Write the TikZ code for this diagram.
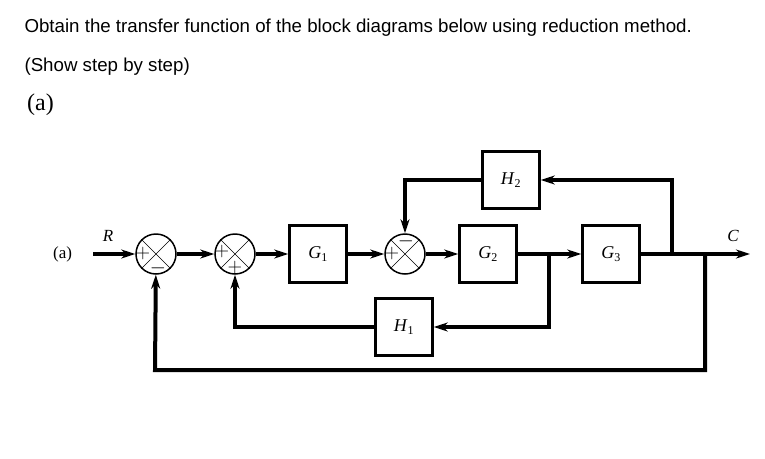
\documentclass[tikz,border=0pt]{standalone}
\usepackage{fontspec}
\setmainfont{Liberation Serif}
\newfontfamily\sansf{Liberation Sans}
\usetikzlibrary{arrows.meta}
\newcommand{\vb}[2]{\textit{#1}\textsubscript{\fontsize{12}{12}\selectfont #2}}
\begin{document}
\begin{tikzpicture}[x=1pt,y=-1pt,
  blk/.style={draw,line width=2.5pt,minimum width=57pt,minimum height=57pt,inner sep=0pt,font=\fontsize{18}{18}\selectfont},
  sumj/.style={draw,circle,line width=1.5pt,minimum size=40pt,inner sep=0pt},
  sig/.style={line width=4pt},
  arr/.style={sig,-{Stealth[length=14pt,width=9pt]}},
  sgn/.style={font=\sffamily\fontsize{20}{20}\selectfont,inner sep=0pt},
  lbl/.style={font=\itshape\fontsize{17}{17}\selectfont}]
\useasboundingbox (0,0) rectangle (765,458);
\node[anchor=west,font=\sansf\fontsize{18.7}{18.7}\selectfont] (t1) at (21,28) {Obtain the transfer function of the block diagrams below using reduction method.};
\node[anchor=west,font=\sansf\fontsize{18.7}{18.7}\selectfont] (t2) at (21,67) {(Show step by step)};
\node[anchor=west,font=\fontsize{24}{24}\selectfont,inner sep=0pt] (ta) at (27,105) {(a)};
\node[anchor=west,font=\fontsize{17}{17}\selectfont,inner sep=0pt] (la) at (53,254) {(a)};
\node[sumj] (s1) at (156,254) {};
\node[sumj] (s2) at (235,254) {};
\node[sumj] (s3) at (405,254) {};
\foreach \s in {s1,s2,s3}{
  \draw[line width=0.4pt] (\s.45) -- (\s.225) (\s.135) -- (\s.315);}
\node[sgn] (p1) at (143,254) {+};
\node[sgn] (m1) at (158,268) {$-$};
\node[sgn] (p2) at (222,252) {+};
\node[sgn] (p2b) at (235,268) {+};
\node[sgn] (p3) at (392,254) {+};
\node[sgn] (m3) at (406,241) {$-$};
\node[blk] (g1) at (318,254) {\vb{G}{1}};
\node[blk] (g2) at (488,254) {\vb{G}{2}};
\node[blk] (g3) at (611,254) {\vb{G}{3}};
\node[blk] (h2) at (511,180) {\vb{H}{2}};
\node[blk] (h1) at (404,327) {\vb{H}{1}};
\coordinate (in) at (93,254);
\coordinate (out) at (750,254);
\coordinate (b1) at (549,254);
\coordinate (b2) at (672,254);
\coordinate (b3) at (705,254);
\node[lbl] (R) at (108,236) {R};
\node[lbl] (C) at (733,236) {C};
\draw[arr] (in) -- (s1);
\draw[arr] (s1) -- (s2);
\draw[arr] (s2) -- (g1);
\draw[arr] (g1) -- (s3);
\draw[arr] (s3) -- (g2);
\draw[sig] (g2) -- (b1);
\draw[arr] (b1) -- (g3);
\draw[arr] (g3) -- (out);
\draw[arr] (b1) |- (h1);
\draw[arr] (h1) -| (s2);
\draw[arr] (b2) |- (h2);
\draw[arr] (h2) -| (s3);
\draw[arr] (b3) |- (155,370) -- (s1);
\end{tikzpicture}
\end{document}
